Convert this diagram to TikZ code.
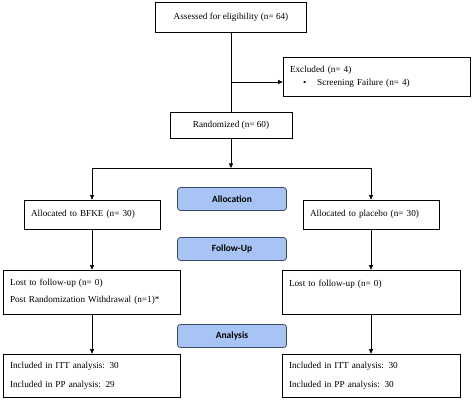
\documentclass[tikz,border=0pt]{standalone}
\usepackage{fontspec}
\setmainfont{Liberation Serif}
\newfontfamily\stagefont{Carlito}
\usetikzlibrary{arrows.meta}

\definecolor{stageblue}{HTML}{A8C4F4}
\definecolor{stageline}{HTML}{3A4A66}

\begin{document}
\begin{tikzpicture}[x=1pt,y=-1pt,
    box/.style={draw,line width=0.7pt,rectangle,inner xsep=7pt,inner ysep=0pt,
      font=\fontsize{9.2}{17}\selectfont,align=left},
    stage/.style={draw=stageline,fill=stageblue,line width=0.8pt,rounded corners=3pt,
      minimum width=109pt,minimum height=23pt,font=\stagefont\bfseries\fontsize{9.5}{11}\selectfont},
    arr/.style={-{Triangle[length=4.5pt,width=4pt]},line width=0.7pt}]

    \useasboundingbox (0,0) rectangle (474,403);

    \node[box,minimum width=151pt,minimum height=30pt,align=center] (assess) at (231,17) {Assessed for eligibility (n= 64)};
    \node[box,minimum width=187pt,minimum height=39pt,text width=173pt] (excl) at (376.5,76.5)
      {Excluded (n= 4)\\[-4pt]\hspace{13pt}\textbullet\hspace{11pt}Screening Failure (n= 4)};
    \node[box,minimum width=122pt,minimum height=26pt,align=center] (rand) at (231,125) {Randomized (n= 60)};

    \coordinate (split) at (231,82);
    \coordinate (fork) at (231,168);
    \coordinate (forkL) at (92,168);
    \coordinate (forkR) at (371,168);

    \node[box,minimum width=136pt,minimum height=29pt,text width=122pt] (allocL) at (92,214.5) {Allocated to BFKE (n= 30)};
    \node[box,minimum width=136pt,minimum height=29pt,text width=122pt] (allocR) at (371,214.5) {Allocated to placebo (n= 30)};

    \node[box,minimum width=177pt,minimum height=44pt,text width=163pt] (lostL) at (91.5,292)
      {Lost to follow-up (n= 0)\\Post Randomization Withdrawal (n=1)*};
    \node[box,minimum width=178pt,minimum height=44pt,text width=164pt] (lostR) at (371,292)
      {Lost to follow-up (n= 0)\\~};

    \node[box,minimum width=177pt,minimum height=43pt,text width=163pt] (inclL) at (91.5,375.5)
      {Included in ITT analysis: 30\\[2pt]Included in PP analysis: 29};
    \node[box,minimum width=178pt,minimum height=43pt,text width=164pt] (inclR) at (371,375.5)
      {Included in ITT analysis: 30\\[2pt]Included in PP analysis: 30};

    \node[stage] (allocation) at (232,199) {Allocation};
    \node[stage] (followup) at (232,249) {Follow-Up};
    \node[stage] (analysis) at (232,336) {Analysis};

    % screening
    \draw[line width=0.7pt] (assess) -- (rand);
    \draw[arr] (split) -- (split -| excl.west);
    % randomisation split
    \draw[arr] (rand) -- (fork);
    \draw[line width=0.7pt] (forkL) -- (forkR);
    \draw[arr] (forkL) -- (allocL);
    \draw[arr] (forkR) -- (allocR);
    % follow-up and analysis
    \draw[arr] (allocL) -- (allocL |- lostL.north);
    \draw[arr] (allocR) -- (allocR |- lostR.north);
    \draw[arr] (allocL |- lostL.south) -- (allocL |- inclL.north);
    \draw[arr] (allocR |- lostR.south) -- (allocR |- inclR.north);

\end{tikzpicture}
\end{document}
